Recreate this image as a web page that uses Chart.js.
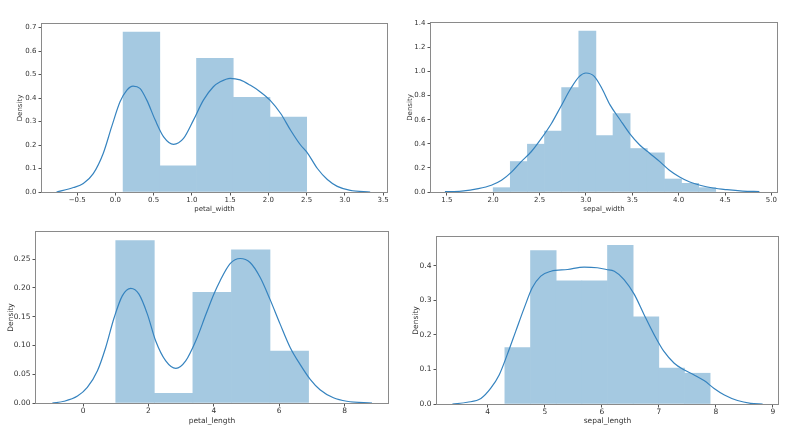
<!DOCTYPE html>
<html>
<head>
<meta charset="utf-8">
<script src="https://cdn.jsdelivr.net/npm/chart.js@4.4.1/dist/chart.umd.min.js"></script>
<style>
  html, body { margin: 0; padding: 0; background: #fff; }
  body { width: 794px; height: 447px; position: relative; overflow: hidden; }
  canvas { position: absolute; }
</style>
</head>
<body>
<canvas id="c1" width="387" height="201" style="left:12px;top:16px"></canvas>
<canvas id="c2" width="387" height="202" style="left:402px;top:15px"></canvas>
<canvas id="c3" width="397" height="206" style="left:3px;top:224px"></canvas>
<canvas id="c4" width="382" height="201" style="left:408px;top:229px"></canvas>
<script>
// --- petal_width ---
const pwEdges = [0.1, 0.58, 1.06, 1.54, 2.02, 2.5];
const pwDensity = [0.681, 0.111, 0.569, 0.403, 0.319];
const pwKdeX = [-0.77, -0.55, -0.42, -0.29, -0.16, -0.05, 0.06, 0.15, 0.23, 0.32, 0.41, 0.52, 0.63, 0.76, 0.89, 1.02, 1.15, 1.28, 1.37, 1.5, 1.63, 1.76, 1.89, 2.02, 2.16, 2.29, 2.42, 2.5, 2.64, 2.77, 2.9, 3.07, 3.33];
const pwKdeY = [0.0, 0.019, 0.036, 0.078, 0.164, 0.277, 0.384, 0.434, 0.451, 0.441, 0.391, 0.306, 0.235, 0.203, 0.228, 0.306, 0.391, 0.448, 0.469, 0.484, 0.477, 0.455, 0.427, 0.391, 0.334, 0.263, 0.2, 0.171, 0.10, 0.053, 0.024, 0.007, 0.0];
const pwTicksX = [-0.5, 0, 0.5, 1, 1.5, 2, 2.5, 3, 3.5];
const pwTicksY = [0, 0.1, 0.2, 0.3, 0.4, 0.5, 0.6, 0.7];

// --- sepal_width ---
const swEdges = [2.0, 2.185, 2.369, 2.554, 2.738, 2.923, 3.108, 3.292, 3.477, 3.662, 3.846, 4.031, 4.215, 4.4];
const swDensity = [0.036, 0.253, 0.397, 0.506, 0.867, 1.336, 0.469, 0.650, 0.361, 0.325, 0.108, 0.072, 0.036];
const swKdeX = [1.48, 1.66, 1.84, 1.98, 2.09, 2.2, 2.3, 2.41, 2.52, 2.63, 2.73, 2.84, 2.93, 3.0, 3.09, 3.17, 3.26, 3.37, 3.47, 3.58, 3.69, 3.8, 3.9, 4.01, 4.12, 4.23, 4.37, 4.52, 4.69, 4.87];
const swKdeY = [0.003, 0.008, 0.028, 0.056, 0.097, 0.167, 0.25, 0.334, 0.445, 0.571, 0.71, 0.863, 0.96, 0.988, 0.96, 0.863, 0.723, 0.598, 0.487, 0.39, 0.32, 0.25, 0.181, 0.125, 0.083, 0.056, 0.033, 0.019, 0.008, 0.003];
const swTicksX = [1.5, 2, 2.5, 3, 3.5, 4, 4.5, 5];
const swTicksY = [0, 0.2, 0.4, 0.6, 0.8, 1.0, 1.2, 1.4];

// --- petal_length ---
const plEdges = [1.0, 2.18, 3.36, 4.54, 5.72, 6.9];
const plDensity = [0.282, 0.017, 0.192, 0.266, 0.090];
const plKdeX = [-0.94, -0.58, -0.17, 0.13, 0.44, 0.69, 0.95, 1.2, 1.46, 1.71, 1.97, 2.22, 2.53, 2.84, 3.14, 3.45, 3.76, 4.01, 4.19, 4.5, 4.81, 5.11, 5.42, 5.72, 6.03, 6.34, 6.64, 6.95, 7.25, 7.66, 8.07, 8.84];
const plKdeY = [0.0, 0.003, 0.012, 0.027, 0.056, 0.096, 0.148, 0.186, 0.199, 0.189, 0.154, 0.108, 0.073, 0.06, 0.073, 0.108, 0.154, 0.19, 0.212, 0.242, 0.251, 0.244, 0.218, 0.18, 0.137, 0.096, 0.067, 0.041, 0.023, 0.009, 0.003, 0.0];
const plTicksX = [0, 2, 4, 6, 8];
const plTicksY = [0, 0.05, 0.10, 0.15, 0.20, 0.25];

// --- sepal_length ---
const slEdges = [4.3, 4.75, 5.2, 5.65, 6.1, 6.55, 7.0, 7.45, 7.9];
const slDensity = [0.163, 0.444, 0.356, 0.356, 0.459, 0.252, 0.104, 0.089];
const slKdeX = [3.38, 3.64, 3.88, 4.05, 4.2, 4.34, 4.49, 4.64, 4.78, 4.93, 5.11, 5.4, 5.69, 5.92, 6.08, 6.22, 6.39, 6.57, 6.74, 6.92, 7.09, 7.27, 7.44, 7.62, 7.8, 7.97, 8.15, 8.38, 8.61, 8.82];
const slKdeY = [0.0, 0.005, 0.016, 0.045, 0.084, 0.142, 0.21, 0.278, 0.336, 0.37, 0.384, 0.389, 0.396, 0.394, 0.389, 0.384, 0.36, 0.317, 0.259, 0.2, 0.152, 0.118, 0.099, 0.084, 0.067, 0.045, 0.026, 0.01, 0.002, 0.0];
const slTicksX = [4, 5, 6, 7, 8, 9];
const slTicksY = [0, 0.1, 0.2, 0.3, 0.4];

// #1f77b4 at alpha 0.4 over white, flattened so touching bars don't darken at seams
const BAR_FILL = '#a5c9e1';
const LINE_COLOR = '#3583bf';
const TEXT_COLOR = '#333';

// matplotlib-style box round the axes
const spines = {
  id: 'spines',
  afterDraw(chart) {
    const { ctx, chartArea: a } = chart;
    ctx.save();
    ctx.strokeStyle = '#8a8a8a';
    ctx.lineWidth = 1;
    ctx.strokeRect(a.left - 0.5, a.top - 0.5, a.right - a.left + 1, a.bottom - a.top + 1);
    ctx.restore();
  }
};

const fmt = (v, d) => v.toFixed(d).replace('-', '\u2212');

function drawDist(id, p) {
  const bars = p.density.map((d, i) => ({ x: (p.edges[i] + p.edges[i + 1]) / 2, y: d }));
  const kde = p.kdeX.map((x, i) => ({ x, y: p.kdeY[i] }));
  const font = { family: 'DejaVu Sans', size: p.fontSize };

  new Chart(document.getElementById(id), {
    type: 'bar',
    data: {
      datasets: [
        { type: 'line', data: kde, borderColor: LINE_COLOR, borderWidth: 1.2, pointRadius: 0,
          cubicInterpolationMode: 'monotone', fill: false, order: 0 },
        { type: 'bar', data: bars, backgroundColor: BAR_FILL, borderWidth: 0,
          barPercentage: 1, categoryPercentage: 1, order: 1 },
      ],
    },
    options: {
      responsive: false, animation: false, devicePixelRatio: 1,
      layout: { padding: { top: 8, right: 12, left: 0, bottom: 0 } },
      plugins: { legend: { display: false }, tooltip: { enabled: false } },
      scales: {
        x: {
          type: 'linear', offset: false, min: p.xMin, max: p.xMax,
          afterBuildTicks: s => { s.ticks = p.ticksX.map(v => ({ value: v })); },
          afterFit: s => { s.height = p.xH; },
          grid: { drawOnChartArea: false, tickLength: 3.5, tickColor: '#555', offset: false },
          border: { display: false },
          ticks: { color: TEXT_COLOR, font, padding: 0, maxRotation: 0, autoSkip: false,
            callback: v => fmt(v, p.xDec) },
          title: { display: true, text: p.xLabel, color: TEXT_COLOR, font, padding: { top: 0, bottom: 4 } },
        },
        y: {
          min: 0, max: p.yMax,
          afterBuildTicks: s => { s.ticks = p.ticksY.map(v => ({ value: v })); },
          afterFit: s => { s.width = p.yW; },
          grid: { drawOnChartArea: false, tickLength: 3.5, tickColor: '#555' },
          border: { display: false },
          ticks: { color: TEXT_COLOR, font, padding: 2, autoSkip: false, callback: v => fmt(v, p.yDec) },
          title: { display: true, text: 'Density', color: TEXT_COLOR, font, padding: { top: 4, bottom: 0 } },
        },
      },
    },
    plugins: [spines],
  });
}

drawDist('c1', { edges: pwEdges, density: pwDensity, kdeX: pwKdeX, kdeY: pwKdeY, ticksX: pwTicksX, ticksY: pwTicksY,
  xMin: -0.96, xMax: 3.55, yMax: 0.715, xDec: 1, yDec: 1, xLabel: 'petal_width', yW: 30, xH: 25, fontSize: 7 });
drawDist('c2', { edges: swEdges, density: swDensity, kdeX: swKdeX, kdeY: swKdeY, ticksX: swTicksX, ticksY: swTicksY,
  xMin: 1.33, xMax: 5.06, yMax: 1.403, xDec: 1, yDec: 1, xLabel: 'sepal_width', yW: 29, xH: 25, fontSize: 7 });
drawDist('c3', { edges: plEdges, density: plDensity, kdeX: plKdeX, kdeY: plKdeY, ticksX: plTicksX, ticksY: plTicksY,
  xMin: -1.44, xMax: 9.33, yMax: 0.297, xDec: 0, yDec: 2, xLabel: 'petal_length', yW: 33, xH: 27, fontSize: 7.5 });
drawDist('c4', { edges: slEdges, density: slDensity, kdeX: slKdeX, kdeY: slKdeY, ticksX: slTicksX, ticksY: slTicksY,
  xMin: 3.11, xMax: 9.09, yMax: 0.483, xDec: 0, yDec: 1, xLabel: 'sepal_length', yW: 29, xH: 26, fontSize: 7.5 });
</script>
</body>
</html>
